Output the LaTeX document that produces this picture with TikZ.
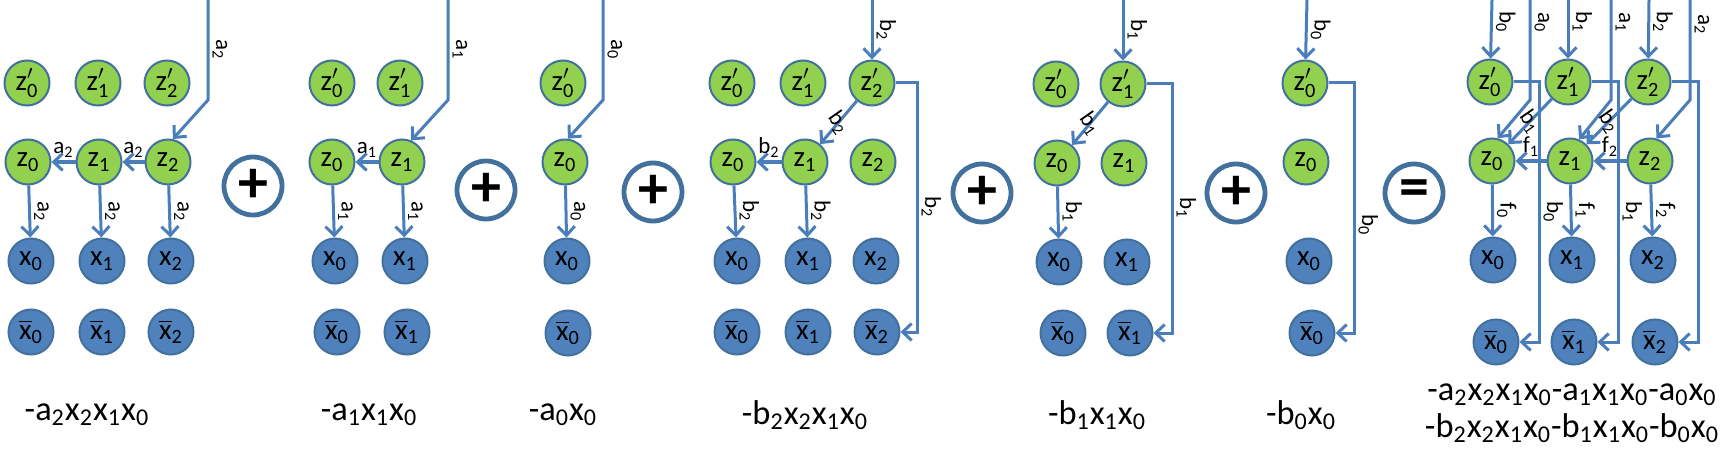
\documentclass[tikz,border=0pt]{standalone}
\usepackage{fontspec}
\usepackage{amsmath}
\setmainfont{Carlito}
\usetikzlibrary{arrows.meta}
\definecolor{zg}{HTML}{92D050}
\definecolor{xb}{HTML}{4F81BD}
\definecolor{ol}{HTML}{41719C}
\definecolor{lnc}{HTML}{4A7EBB}
\newcommand\lo[1]{\ensuremath{_{\text{#1}}}}
\newcommand\Zp[1]{z$'_{\text{#1}}$}
\newcommand\Zn[1]{z\lo{#1}}
\newcommand\Xn[1]{x\lo{#1}}
\newcommand\Xb[1]{$\overline{\text{x}}_{\text{#1}}$}
\begin{document}
\begin{tikzpicture}[x=0.5pt,y=-0.5pt,
 zn/.style={circle,draw=ol,line width=1pt,fill=zg,minimum size=22.5pt,inner sep=0pt,font=\fontsize{14.5}{16}\selectfont},
 xn/.style={zn,fill=xb},
 opn/.style={circle,draw=ol,line width=2.4pt,fill=white,minimum size=29pt,inner sep=0pt,font=\fontsize{30}{30}\selectfont\bfseries},
 ar/.style={draw=lnc,line width=1.5pt,-{Straight Barb[length=4.5pt,width=8.5pt]}},
 lab/.style={font=\fontsize{11.5}{12}\selectfont,inner sep=1.5pt},
 vl/.style={lab,rotate=-90,anchor=south},
 hl/.style={lab,anchor=south},
 dl/.style={lab,rotate=-55,inner sep=0.3pt},
 btxt/.style={font=\fontsize{17.2}{18.5}\selectfont,align=center}]
\useasboundingbox[fill=white] (0,0) rectangle (1724,460);

% ---------- Panel A : a2 ----------
\node[zn] (Azp0) at (27,83) {\Zp0};
\node[zn] (Azp1) at (98,83) {\Zp1};
\node[zn] (Azp2) at (167,83) {\Zp2};
\node[zn] (Az0) at (28,162) {\Zn0};
\node[zn] (Az1) at (99,162) {\Zn1};
\node[zn] (Az2) at (168,162) {\Zn2};
\node[xn] (Ax0) at (31,261) {\Xn0};
\node[xn] (Ax1) at (102,261) {\Xn1};
\node[xn] (Ax2) at (171,261) {\Xn2};
\node[xn] (Axb0) at (31,332) {\Xb0};
\node[xn] (Axb1) at (102,332) {\Xb1};
\node[xn] (Axb2) at (171,332) {\Xb2};
\coordinate (At) at (208,0); \coordinate (Ak) at (208,100);
\draw[ar] (At) -- node[vl]{a\lo2} (Ak) -- (Az2.78);
\draw[ar] (Az2) -- node[hl]{a\lo2} (Az1);
\draw[ar] (Az1) -- node[hl]{a\lo2} (Az0);
\draw[ar] (Az0) -- node[vl]{a\lo2} (Ax0);
\draw[ar] (Az1) -- node[vl]{a\lo2} (Ax1);
\draw[ar] (Az2) -- node[vl]{a\lo2} (Ax2);
\node[opn] (op1) at (253,186) {+};

% ---------- Panel B : a1 ----------
\node[zn] (Bzp0) at (332,83) {\Zp0};
\node[zn] (Bzp1) at (400,83) {\Zp1};
\node[zn] (Bz0) at (332,162) {\Zn0};
\node[zn] (Bz1) at (402,162) {\Zn1};
\node[xn] (Bx0) at (335,261) {\Xn0};
\node[xn] (Bx1) at (405,261) {\Xn1};
\node[xn] (Bxb0) at (337,332) {\Xb0};
\node[xn] (Bxb1) at (407,332) {\Xb1};
\coordinate (Bt) at (448,0); \coordinate (Bk) at (448,100);
\draw[ar] (Bt) -- node[vl]{a\lo1} (Bk) -- (Bz1.67);
\draw[ar] (Bz1) -- node[hl]{a\lo1} (Bz0);
\draw[ar] (Bz0) -- node[vl]{a\lo1} (Bx0);
\draw[ar] (Bz1) -- node[vl]{a\lo1} (Bx1);
\node[opn] (op2) at (486,190) {+};

% ---------- Panel C : a0 ----------
\node[zn] (Czp0) at (563,83) {\Zp0};
\node[zn] (Cz0) at (565,162) {\Zn0};
\node[xn] (Cx0) at (567,261) {\Xn0};
\node[xn] (Cxb0) at (568,333) {\Xb0};
\coordinate (Ct) at (603,0); \coordinate (Ck) at (603,100);
\draw[ar] (Ct) -- node[vl]{a\lo0} (Ck) -- (Cz0.83);
\draw[ar] (Cz0) -- node[vl]{a\lo0} (Cx0);
\node[opn] (op3) at (653,192) {+};

% ---------- Panel D : b2 ----------
\node[zn] (Dzp0) at (732,83) {\Zp0};
\node[zn] (Dzp1) at (803,83) {\Zp1};
\node[zn] (Dzp2) at (872,83) {\Zp2};
\node[zn] (Dz0) at (733,162) {\Zn0};
\node[zn] (Dz1) at (805,162) {\Zn1};
\node[zn] (Dz2) at (873,162) {\Zn2};
\node[xn] (Dx0) at (737,261) {\Xn0};
\node[xn] (Dx1) at (808,261) {\Xn1};
\node[xn] (Dx2) at (876,261) {\Xn2};
\node[xn] (Dxb0) at (737,332) {\Xb0};
\node[xn] (Dxb1) at (808,332) {\Xb1};
\node[xn] (Dxb2) at (877,332) {\Xb2};
\coordinate (Dt) at (872,0);
\draw[ar] (Dt) -- node[vl]{b\lo2} (Dzp2);
\draw[ar] (Dzp2) -- node[dl,at={(856,126)}]{b\lo2} (Dz1);
\draw[ar] (Dz1) -- node[hl]{b\lo2} (Dz0);
\draw[ar] (Dz0) -- node[vl]{b\lo2} (Dx0);
\draw[ar] (Dz1) -- node[vl]{b\lo2} (Dx1);
\coordinate (Dr1) at (917,83); \coordinate (Dr2) at (917,332);
\draw[ar] (Dzp2.east) -- (Dr1) -- node[vl]{b\lo2} (Dr2) -- (Dxb2.east);
\node[opn] (op4) at (982,193) {+};

% ---------- Panel E : b1 ----------
\node[zn] (Ezp0) at (1056,84) {\Zp0};
\node[zn] (Ezp1) at (1123,84) {\Zp1};
\node[zn] (Ez0) at (1057,163) {\Zn0};
\node[zn] (Ez1) at (1124,163) {\Zn1};
\node[xn] (Ex0) at (1059,262) {\Xn0};
\node[xn] (Ex1) at (1127,262) {\Xn1};
\node[xn] (Exb0) at (1063,333) {\Xb0};
\node[xn] (Exb1) at (1130,333) {\Xb1};
\coordinate (Et) at (1123,0);
\draw[ar] (Et) -- node[vl]{b\lo1} (Ezp1);
\draw[ar] (Ezp1) -- node[dl,at={(1107,123)}]{b\lo1} (Ez0);
\draw[ar] (Ez0) -- node[vl]{b\lo1} (Ex0);
\coordinate (Er1) at (1172,84); \coordinate (Er2) at (1172,333);
\draw[ar] (Ezp1.east) -- (Er1) -- node[vl]{b\lo1} (Er2) -- (Exb1.east);
\node[opn] (op5) at (1236,193) {+};

% ---------- Panel F : b0 ----------
\node[zn] (Fzp0) at (1305,83) {\Zp0};
\node[zn] (Fz0) at (1306,162) {\Zn0};
\node[xn] (Fx0) at (1309,261) {\Xn0};
\node[xn] (Fxb0) at (1312,333) {\Xb0};
\coordinate (Ft) at (1307,0);
\draw[ar] (Ft) -- node[vl]{b\lo0} (Fzp0);
\coordinate (Fr1) at (1354,83); \coordinate (Fr2) at (1354,333);
\draw[ar] (Fzp0.east) -- (Fr1) -- node[vl,pos=0.57]{b\lo0} (Fr2) -- (Fxb0.east);
\node[opn] (op6) at (1414,193) {=};

% ---------- Panel G : sum ----------
\node[zn] (Gzp0) at (1490,82) {\Zp0};
\node[zn] (Gzp1) at (1568,82) {\Zp1};
\node[zn] (Gzp2) at (1648,82) {\Zp2};
\node[zn] (Gz0) at (1492,161) {\Zn0};
\node[zn] (Gz1) at (1570,161) {\Zn1};
\node[zn] (Gz2) at (1650,161) {\Zn2};
\node[xn] (Gx0) at (1493,260) {\Xn0};
\node[xn] (Gx1) at (1572,260) {\Xn1};
\node[xn] (Gx2) at (1653,260) {\Xn2};
\node[xn] (Gxb0) at (1496,342) {\Xb0};
\node[xn] (Gxb1) at (1574,342) {\Xb1};
\node[xn] (Gxb2) at (1655,342) {\Xb2};
\coordinate (Gtb0) at (1492,0);
\coordinate (Gtb1) at (1568,0);
\coordinate (Gtb2) at (1649,0);
\draw[ar] (Gtb0) -- node[vl,pos=0.38]{b\lo0} (Gzp0);
\draw[ar] (Gtb1) -- node[vl,pos=0.38]{b\lo1} (Gzp1);
\draw[ar] (Gtb2) -- node[vl,pos=0.38]{b\lo2} (Gzp2);
\coordinate (Gta0) at (1530,0); \coordinate (Gka0) at (1530,100);
\coordinate (Gta1) at (1611,0); \coordinate (Gka1) at (1611,100);
\coordinate (Gta2) at (1690,0); \coordinate (Gka2) at (1690,100);
\draw[ar] (Gta0) -- node[vl,pos=0.23]{a\lo0} (Gka0) -- (Gz0.76);
\draw[ar] (Gta1) -- node[vl,pos=0.23]{a\lo1} (Gka1) -- (Gz1.67);
\draw[ar] (Gta2) -- node[vl,pos=0.25]{a\lo2} (Gka2) -- (Gz2.74);
\draw[ar] (Gzp1) -- node[dl,at={(1559,117)}]{b\lo1} (Gz0);
\draw[ar] (Gzp2) -- node[dl,at={(1639,117)}]{b\lo2} (Gz1);
\draw[ar] (Gz1) -- node[hl]{f\lo1} (Gz0);
\draw[ar] (Gz2) -- node[hl]{f\lo2} (Gz1);
\draw[ar] (Gz0) -- node[vl]{f\lo0} (Gx0);
\draw[ar] (Gz1) -- node[vl]{f\lo1} (Gx1);
\draw[ar] (Gz2) -- node[vl]{f\lo2} (Gx2);
\coordinate (Gr01) at (1539,82); \coordinate (Gr02) at (1539,342);
\coordinate (Gr11) at (1618,82); \coordinate (Gr12) at (1618,342);
\coordinate (Gr21) at (1698,82); \coordinate (Gr22) at (1698,342);
\draw[ar] (Gzp0.east) -- (Gr01) -- node[vl]{b\lo0} (Gr02) -- (Gxb0.east);
\draw[ar] (Gzp1.east) -- (Gr11) -- node[vl]{b\lo1} (Gr12) -- (Gxb1.east);
\draw[ar] (Gzp2.east) -- (Gr21) -- (Gr22) -- (Gxb2.east);

% ---------- bottom expressions ----------
\node[btxt] (L1) at (87,415) {-a\lo2x\lo2x\lo1x\lo0};
\node[btxt] (L2) at (369,415) {-a\lo1x\lo1x\lo0};
\node[btxt] (L3) at (563,415) {-a\lo0x\lo0};
\node[btxt] (L4) at (805,415) {-b\lo2x\lo2x\lo1x\lo0};
\node[btxt] (L5) at (1097,415) {-b\lo1x\lo1x\lo0};
\node[btxt] (L6) at (1301,415) {-b\lo0x\lo0};
\node[btxt] (L7) at (1572,413) {-a\lo2x\lo2x\lo1x\lo0-a\lo1x\lo1x\lo0-a\lo0x\lo0\\-b\lo2x\lo2x\lo1x\lo0-b\lo1x\lo1x\lo0-b\lo0x\lo0};
\end{tikzpicture}
\end{document}
